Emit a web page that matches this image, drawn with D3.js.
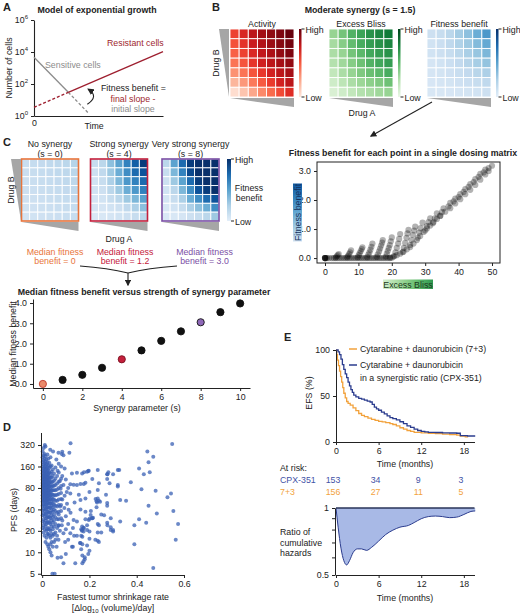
<!DOCTYPE html>
<html>
<head>
<meta charset="utf-8">
<script src="https://cdn.jsdelivr.net/npm/d3@7"></script>
<style>
  body { margin: 0; background: #fff; }
</style>
</head>
<body>
<div id="chart"></div>
<script>
// ---- A: exponential growth model (log10 cells vs time) ----
const growthTicks = [0, 2, 4, 6];
const sensitiveSolid = [[0, 3.67], [2.66, 1.48]];
const sensitiveDashed = [[2.66, 1.48], [4.21, 0.19]];
const resistantDashed = [[0, 0.54], [2.66, 1.48]];
const resistantSolid = [[2.66, 1.48], [10, 4.02]];

// ---- B: moderate synergy matrices (rows = drug B high -> low) ----
const activityMatrix = [
    [0.58, 0.68, 0.78, 0.86, 0.91, 0.95, 1],
    [0.53, 0.63, 0.73, 0.81, 0.88, 0.93, 0.97],
    [0.48, 0.58, 0.67, 0.76, 0.83, 0.9, 0.95],
    [0.42, 0.52, 0.62, 0.71, 0.78, 0.85, 0.9],
    [0.32, 0.42, 0.52, 0.61, 0.7, 0.78, 0.85],
    [0.2, 0.3, 0.4, 0.5, 0.6, 0.7, 0.78],
    [0.05, 0.15, 0.25, 0.35, 0.45, 0.55, 0.65]
];
const blissMatrix = [
    [0.35, 0.45, 0.55, 0.62, 0.7, 0.75, 0.8],
    [0.3, 0.4, 0.5, 0.58, 0.65, 0.7, 0.75],
    [0.28, 0.35, 0.45, 0.52, 0.6, 0.65, 0.7],
    [0.25, 0.32, 0.4, 0.47, 0.55, 0.6, 0.65],
    [0.2, 0.28, 0.35, 0.42, 0.48, 0.52, 0.58],
    [0.15, 0.22, 0.28, 0.33, 0.38, 0.42, 0.47],
    [0.1, 0.15, 0.2, 0.25, 0.28, 0.32, 0.35]
];
const benefitMatrix = [
    [0.12, 0.15, 0.2, 0.28, 0.35, 0.45, 0.55],
    [0.1, 0.13, 0.18, 0.24, 0.3, 0.38, 0.47],
    [0.1, 0.12, 0.15, 0.2, 0.26, 0.32, 0.4],
    [0.08, 0.1, 0.13, 0.17, 0.22, 0.27, 0.33],
    [0.08, 0.09, 0.11, 0.14, 0.17, 0.21, 0.25],
    [0.07, 0.08, 0.09, 0.11, 0.13, 0.15, 0.18],
    [0.06, 0.06, 0.07, 0.08, 0.09, 0.1, 0.12]
];

// ---- B (right): fitness benefit vs excess bliss ----
const blissBaseline = [[0, 0], [0, 0], [0, 0], [0, 0], [0, 0], [0.3, 0], [0.6, 0], [1.2, 0], [2, 0], [2.6, 0],
    [3.2, 0], [3.8, 0], [4.4, 0], [5, 0], [5.6, 0], [6.2, 0], [6.8, 0], [7.4, 0], [8, 0], [8.6, 0],
    [9.2, 0], [9.8, 0], [10.4, 0], [11, 0], [11.6, 0], [12.2, 0], [12.8, 0], [13.4, 0], [14, 0], [14.6, 0],
    [15.2, 0], [15.8, 0], [16.4, 0], [17, 0], [17.6, 0], [18.2, 0], [18.8, 0], [19.4, 0], [20, 0.01]];
const blissStreaks = [
    [[3.2, 0.02], [3.5, 0.06], [3.8, 0.1], [4.1, 0.14]],
    [[6.6, 0.03], [6.9, 0.08], [7.2, 0.14], [7.5, 0.2], [7.8, 0.27]],
    [[9.8, 0.03], [10.1, 0.1], [10.4, 0.17], [10.7, 0.24], [11, 0.31], [11.2, 0.37]],
    [[12.6, 0.03], [13, 0.12], [13.3, 0.2], [13.6, 0.29], [13.9, 0.39], [14.2, 0.5]],
    [[15.5, 0.04], [15.8, 0.13], [16.2, 0.23], [16.5, 0.33], [16.8, 0.43], [17.1, 0.53], [17.3, 0.62]],
    [[18.2, 0.05], [18.5, 0.15], [18.8, 0.25], [19.1, 0.35], [19.4, 0.45], [19.7, 0.58], [20, 0.71]],
    [[20.8, 0.07], [21.1, 0.2], [21.5, 0.35], [21.9, 0.5], [22.2, 0.66], [22.5, 0.83]],
    [[23.2, 0.2], [23.6, 0.35], [24, 0.52], [24.4, 0.7], [24.7, 0.85], [25, 0.97]],
    [[25.5, 0.45], [25.9, 0.62], [26.3, 0.8], [26.7, 0.95], [27, 1.08]],
    [[27.8, 0.7], [28.2, 0.88], [28.6, 1.03], [29.2, 1.22]],
    [[30, 0.95], [30.5, 1.1], [31, 1.24], [31.5, 1.37]],
    [[32.3, 1.2], [32.9, 1.37], [33.5, 1.54]],
    [[34.5, 1.45], [35, 1.58], [35.5, 1.71]]
];
const blissUpper = [[37, 1.78], [37.5, 1.9], [38.5, 1.95], [39, 2.05], [40, 2.1], [40.5, 2.2], [41.5, 2.28],
    [42, 2.38], [43, 2.45], [43.5, 2.55], [44.5, 2.62], [45, 2.72], [46, 2.8], [46.5, 2.9], [47.5, 2.95],
    [48, 3.05], [49, 3.1], [50, 3.18]];
const blissCurve = [[19.5, 0.02], [20.5, 0.05], [21.5, 0.1], [22.5, 0.15], [23.5, 0.22], [24.5, 0.3],
    [25.5, 0.38], [26.5, 0.5], [27.5, 0.62], [28.5, 0.76], [29.5, 0.9], [30.5, 1.02], [31.5, 1.12],
    [32.5, 1.24], [33.5, 1.35], [34.5, 1.46], [36, 1.6], [37.5, 1.72], [39, 1.88], [40.5, 2.03],
    [42, 2.2], [43.5, 2.35], [45, 2.52], [46.5, 2.7], [48, 2.88], [49, 3.0]];

// ---- C: fitness benefit matrices for three synergy strengths ----
const noSynergyMatrix = [
    [0.14, 0.16, 0.17, 0.18, 0.19, 0.2, 0.22],
    [0.13, 0.15, 0.16, 0.17, 0.18, 0.19, 0.2],
    [0.12, 0.14, 0.15, 0.16, 0.17, 0.18, 0.19],
    [0.12, 0.13, 0.14, 0.15, 0.16, 0.17, 0.18],
    [0.11, 0.12, 0.13, 0.14, 0.15, 0.16, 0.17],
    [0.1, 0.11, 0.12, 0.13, 0.14, 0.15, 0.16],
    [0.09, 0.1, 0.11, 0.12, 0.13, 0.14, 0.15]
];
const strongMatrix = [
    [0.15, 0.2, 0.35, 0.5, 0.65, 0.8, 0.95],
    [0.12, 0.18, 0.3, 0.45, 0.6, 0.75, 0.85],
    [0.1, 0.15, 0.25, 0.4, 0.55, 0.65, 0.75],
    [0.1, 0.12, 0.2, 0.3, 0.45, 0.55, 0.65],
    [0.08, 0.1, 0.15, 0.2, 0.3, 0.4, 0.5],
    [0.08, 0.08, 0.1, 0.12, 0.18, 0.25, 0.35],
    [0.05, 0.06, 0.08, 0.1, 0.12, 0.15, 0.2]
];
const veryStrongMatrix = [
    [0.2, 0.5, 0.75, 0.95, 1, 1, 1],
    [0.15, 0.4, 0.65, 0.9, 1, 1, 1],
    [0.12, 0.3, 0.5, 0.75, 0.95, 1, 1],
    [0.1, 0.2, 0.4, 0.6, 0.85, 0.95, 1],
    [0.08, 0.15, 0.25, 0.45, 0.6, 0.75, 0.85],
    [0.06, 0.1, 0.15, 0.25, 0.35, 0.45, 0.6],
    [0.05, 0.06, 0.08, 0.12, 0.15, 0.2, 0.3]
];
const synergyParams = [0, 1, 2, 3, 4, 5, 6, 7, 8, 9, 10];
const medianBenefit = [0, 0.2, 0.45, 0.8, 1.22, 1.66, 2.13, 2.6, 3.05, 3.55, 3.98];

// ---- D: PFS vs fastest shrinkage rate ----
const denseRates = [0.002, 0.006, 0.010, 0.014, 0.018, 0.022, 0.026, 0.030, 0.035, 0.040, 0.045, 0.050, 0.056, 0.063, 0.070, 0.080];
const densePfs = [
    [260, 215, 185, 160, 142, 128, 115, 104, 94, 86, 78, 70, 63, 57, 51, 45, 39, 33, 27, 22],
    [290, 230, 195, 170, 150, 134, 120, 108, 98, 89, 81, 73, 66, 59, 53, 47, 41, 35, 29, 24, 19],
    [240, 205, 178, 156, 138, 124, 112, 101, 92, 84, 76, 69, 62, 56, 50, 44, 38, 32, 26, 21, 17],
    [305, 222, 188, 163, 145, 130, 117, 106, 96, 87, 79, 71, 64, 58, 52, 46, 40, 34, 28, 23, 14],
    [200, 172, 150, 133, 119, 107, 97, 88, 80, 72, 65, 59, 53, 47, 41, 35, 30, 25, 20, 16],
    [235, 180, 157, 139, 125, 112, 101, 91, 83, 75, 68, 61, 55, 49, 43, 37, 31, 26, 21, 18, 13],
    [205, 165, 143, 127, 114, 102, 92, 83, 75, 68, 61, 55, 49, 43, 37, 32, 27, 22, 18, 12],
    [180, 152, 132, 116, 104, 93, 84, 75, 68, 61, 54, 48, 42, 36, 31, 26, 21, 17, 11],
    [215, 160, 128, 110, 97, 86, 77, 69, 62, 55, 48, 42, 36, 30, 25, 20, 16, 13, 10],
    [165, 135, 112, 96, 84, 74, 65, 58, 51, 45, 39, 33, 28, 23, 18, 14, 9],
    [145, 118, 98, 85, 74, 64, 56, 49, 43, 37, 31, 26, 21, 17, 12],
    [128, 102, 86, 74, 63, 55, 47, 40, 34, 28, 23, 18, 14],
    [155, 108, 88, 74, 63, 53, 45, 38, 31, 25, 19, 15],
    [118, 92, 76, 64, 53, 44, 36, 29, 22, 17],
    [132, 98, 80, 66, 55, 46, 37, 29, 24],
    [108, 85, 68, 56, 46, 38, 30]
];
const sparsePoints = [
    [0.12, 340], [0.55, 330], [0.445, 260], [0.47, 220], [0.45, 183], [0.41, 150], [0.43, 125], [0.455, 133],
    [0.375, 96], [0.42, 77], [0.48, 73], [0.545, 67], [0.53, 59], [0.355, 53], [0.45, 45], [0.555, 38],
    [0.485, 35], [0.41, 29], [0.44, 26], [0.575, 25], [0.39, 24], [0.565, 15], [0.39, 13], [0.47, 6],
    [0.275, 107], [0.32, 143], [0.275, 125], [0.28, 133], [0.24, 93], [0.285, 93], [0.32, 88], [0.32, 84],
    [0.235, 75], [0.2, 70], [0.27, 64], [0.235, 57], [0.23, 52], [0.245, 51], [0.232, 50], [0.33, 54],
    [0.275, 49], [0.275, 45], [0.23, 43], [0.206, 38], [0.25, 34], [0.262, 33], [0.21, 30], [0.2, 29.5],
    [0.215, 30.5], [0.29, 30], [0.275, 26], [0.33, 27], [0.235, 25], [0.24, 24], [0.19, 24], [0.175, 22],
    [0.165, 21], [0.168, 20], [0.175, 19.5], [0.2, 19.5], [0.29, 20.5], [0.3, 19.5], [0.235, 19], [0.25, 19],
    [0.135, 17], [0.165, 17], [0.17, 16.5], [0.2, 15.5], [0.11, 15], [0.225, 15], [0.235, 14.5], [0.24, 14],
    [0.16, 13.5], [0.17, 13], [0.19, 12.5], [0.13, 12], [0.165, 11], [0.2, 10.5], [0.195, 9.5], [0.1, 9.5],
    [0.17, 9], [0.18, 8.5], [0.08, 8.5], [0.065, 8.4], [0.18, 8], [0.175, 7.5], [0.09, 7], [0.14, 7], [0.17, 7],
    [0.069, 249], [0.083, 240], [0.09, 230], [0.115, 249], [0.034, 275], [0.046, 260], [0.126, 128],
    [0.147, 131], [0.169, 128], [0.19, 135], [0.197, 140], [0.276, 125], [0.326, 143], [0.119, 90],
    [0.133, 89], [0.147, 88], [0.162, 91], [0.176, 91], [0.183, 95], [0.212, 107], [0.104, 70], [0.119, 67],
    [0.155, 64], [0.162, 54], [0.183, 57], [0.226, 56], [0.24, 53], [0.137, 50], [0.076, 44], [0.094, 42],
    [0.112, 39.5], [0.162, 40], [0.183, 37], [0.205, 33.5], [0.212, 30], [0.197, 28.5], [0.183, 29],
    [0.133, 28.5], [0.147, 27], [0.083, 24], [0.069, 23.5], [0.169, 23], [0.176, 22], [0.19, 20.5],
    [0.169, 20.5], [0.276, 24], [0.29, 22.5], [0.3, 20.5], [0.09, 18.5], [0.119, 18.5], [0.147, 17],
    [0.069, 15], [0.097, 14], [0.061, 12], [0.126, 12], [0.162, 13.5], [0.043, 5], [0.053, 5], [0.011, 320],
    [0.06, 200], [0.07, 175], [0.08, 160], [0.095, 150], [0.065, 140], [0.085, 118], [0.1, 105], [0.075, 100],
    [0.09, 88], [0.11, 80], [0.078, 78], [0.095, 62], [0.085, 55], [0.105, 48], [0.07, 34], [0.1, 32],
    [0.12, 36], [0.085, 28], [0.11, 25], [0.075, 20], [0.1, 21], [0.13, 22], [0.085, 258], [0.235, 143],
    [0.195, 138], [0.177, 133], [0.3, 125]
];
const pfsTicks = [5, 10, 20, 40, 80, 160, 320];
const rateTicks = [0, 0.2, 0.4, 0.6];

// ---- E: event-free survival and ratio of cumulative hazards ----
const cpxCurve = [[0, 100], [0.3, 98], [0.5, 95], [0.7, 90], [0.9, 84], [1.1, 79], [1.3, 74], [1.5, 70],
    [1.7, 65], [1.9, 61], [2.1, 57], [2.3, 54], [2.5, 51], [2.8, 49], [3.2, 47.5], [3.6, 46.5], [4.0, 45.5],
    [4.4, 44.5], [4.8, 43.5], [5.1, 41], [5.4, 38], [5.7, 36], [6.0, 34.5], [6.4, 32.5], [6.8, 30.5],
    [7.2, 28.5], [7.6, 26.5], [8.0, 25.5], [8.5, 24], [9.0, 22], [9.5, 20], [10.0, 17.5], [10.5, 16],
    [11.0, 14], [11.5, 12.5], [12.0, 11.5], [12.5, 11], [13.0, 10.5], [14, 10.3], [15, 10], [16, 9.8],
    [17, 9.5], [17.5, 7], [18.5, 6.5], [19.6, 6.5]];
const standardCurve = [[0, 100], [0.1, 95], [0.2, 89], [0.35, 83], [0.5, 77], [0.65, 71], [0.8, 65],
    [0.95, 59], [1.1, 53], [1.3, 48], [1.5, 44], [1.7, 42], [2.0, 40], [2.4, 37], [2.8, 34], [3.2, 31],
    [3.6, 29], [4.0, 27.5], [4.5, 26], [5.0, 24.5], [5.5, 23.5], [6.0, 22.5], [6.5, 21.8], [7.0, 21],
    [7.6, 20], [8.0, 19], [8.5, 17.5], [9.0, 15.5], [9.5, 14], [10.0, 12.5], [10.5, 11.5], [11.0, 10.5],
    [12.0, 10], [13, 9.5], [14, 9], [15, 8.5], [16, 8], [17, 7.5], [17.5, 6.5], [18.2, 5.5], [18.6, 5.5]];
const monthTicks = [0, 6, 12, 18];
const efsTicks = [0, 50, 100];
const atRiskCpx = [153, 34, 9, 3];
const atRiskStandard = [156, 27, 11, 5];
const hazardRatio = [[0, 1], [0.3, 0.82], [0.7, 0.66], [1.1, 0.58], [1.5, 0.555], [1.9, 0.58], [2.4, 0.63],
    [3.0, 0.655], [3.6, 0.655], [4.3, 0.645], [5.0, 0.665], [6.0, 0.71], [7.0, 0.76], [8.0, 0.795],
    [9.0, 0.82], [10.2, 0.835], [11.0, 0.86], [12.0, 0.895], [13.0, 0.915], [14.0, 0.92], [15.0, 0.915],
    [16.0, 0.905], [17.0, 0.91], [18.0, 0.935], [19.0, 0.965], [19.6, 0.97]];
const ratioTicks = [0.5, 0.6, 0.7, 0.8, 0.9, 1];

const INK = "#222";
const SENSITIVE = "#8c8c8c";
const RESISTANT = "#9e1f2f";
const ORANGE_S0 = "#e8743b";
const CRIMSON_S4 = "#c4203c";
const PURPLE_S8 = "#7b4fa5";
const KM_ORANGE = "#f2a23c";
const KM_BLUE = "#2b3c8e";
const TABLE_BLUE = "#3f52a6";

const svg = d3.select("#chart").append("svg")
    .attr("width", 520)
    .attr("height", 616)
    .attr("font-family", "'Liberation Sans', Arial, Helvetica, sans-serif")
    .attr("font-size", 8.8);
const defs = svg.append("defs");

defs.append("marker")
    .attr("id", "arrow")
    .attr("viewBox", "0 0 10 10")
    .attr("refX", 8).attr("refY", 5)
    .attr("markerWidth", 6).attr("markerHeight", 6)
    .attr("orient", "auto")
    .append("path")
    .attr("d", "M0,0L10,5L0,10z")
    .attr("fill", INK);

const label = (g, x, y, text, {anchor = "start", color = INK, bold = false, size = null, rotate = false} = {}) => {
    const t = g.append("text")
        .attr("x", x).attr("y", y)
        .attr("text-anchor", anchor)
        .attr("fill", color)
        .text(text);
    if (bold) t.attr("font-weight", "bold");
    if (size) t.attr("font-size", size);
    if (rotate) t.attr("transform", `rotate(-90,${x},${y})`);
    return t;
};

const styleAxis = (sel) => {
    sel.attr("font-family", null).attr("font-size", null);
    sel.selectAll("path, line").attr("stroke", INK);
    sel.selectAll("text").attr("fill", INK);
    return sel;
};

const addGradient = (id, interpolate, vertical) => {
    const grad = defs.append("linearGradient").attr("id", id);
    if (vertical) grad.attr("x1", 0).attr("y1", 1).attr("x2", 0).attr("y2", 0);
    [0, 0.25, 0.5, 0.75, 1].forEach((t) => grad.append("stop").attr("offset", t).attr("stop-color", interpolate(t)));
    return `url(#${id})`;
};

const redScale = (t) => d3.interpolateReds(0.08 + 0.92 * t);
const greenScale = (t) => d3.interpolateGreens(0.08 + 0.92 * t);
const blueScale = (t) => d3.interpolateBlues(0.1 + 0.9 * t);

const drawMatrix = (g, values, left, top, width, height, colorFn, border) => {
    const col = d3.scaleBand().domain(d3.range(values[0].length)).range([left, left + width]);
    const row = d3.scaleBand().domain(d3.range(values.length)).range([top, top + height]);
    const cells = values.flatMap((r, i) => r.map((v, j) => ({i, j, v})));
    g.append("g").selectAll("rect").data(cells).join("rect")
        .attr("x", (d) => col(d.j))
        .attr("y", (d) => row(d.i))
        .attr("width", col.bandwidth())
        .attr("height", row.bandwidth())
        .attr("fill", (d) => colorFn(d.v))
        .attr("stroke", "#fff")
        .attr("stroke-width", 0.9);
    if (border) {
        g.append("rect")
            .attr("x", left).attr("y", top)
            .attr("width", width).attr("height", height)
            .attr("fill", "none")
            .attr("stroke", border)
            .attr("stroke-width", 1.6);
    }
};

const wedgeBelow = (g, left, width, top) => g.append("path")
    .attr("d", `M${left},${top}L${left + width},${top}L${left + width},${top + 9}Z`)
    .attr("fill", "#a6a6a6");

const wedgeLeft = (g, right, top, height) => g.append("path")
    .attr("d", `M${right},${top}L${right - 10},${top}L${right},${top + height}Z`)
    .attr("fill", "#a6a6a6");

const colorBar = (g, id, colorFn, x, top, height, width, lines) => {
    g.append("rect")
        .attr("x", x).attr("y", top)
        .attr("width", width).attr("height", height)
        .attr("fill", addGradient(id, colorFn, true));
    [top, top + height].forEach((y) => g.append("line")
        .attr("x1", x + width).attr("x2", x + width + 3)
        .attr("y1", y).attr("y2", y)
        .attr("stroke", INK));
    label(g, x + width + 4, top + 3.5, "High");
    label(g, x + width + 4, top + height + 3.5, "Low");
    if (lines) {
        label(g, x + width + 18, top + height / 2 + 1, lines[0], {anchor: "middle"});
        label(g, x + width + 18, top + height / 2 + 11, lines[1], {anchor: "middle"});
    }
};

// ---------- Panel A ----------
const drawGrowth = () => {
    const g = svg.append("g");
    const x = d3.scaleLinear().domain([0, 10]).range([34, 163]);
    const y = d3.scaleLinear().domain([0, 6]).range([116, 20]);

    label(g, 3, 11, "A", {bold: true, size: 11});
    label(g, 97, 13, "Model of exponential growth", {anchor: "middle", bold: true});

    const left = g.append("g").attr("transform", "translate(34,0)")
        .call(d3.axisLeft(y).tickValues(growthTicks).tickSize(3).tickSizeOuter(0));
    styleAxis(left);
    left.selectAll(".tick text").each(function (d) {
        d3.select(this).text("10").append("tspan").attr("dy", -4).attr("font-size", 6).text(d);
    });
    const bottom = g.append("g").attr("transform", "translate(0,116)")
        .call(d3.axisBottom(x).tickValues([0]).tickSize(0).tickPadding(4).tickSizeOuter(0));
    styleAxis(bottom);
    left.select(".domain").attr("stroke-width", 1.1);
    bottom.select(".domain").attr("stroke-width", 1.1);

    label(g, 94, 129, "Time", {anchor: "middle"});
    label(g, 12, 68, "Number of cells", {anchor: "middle", rotate: true});

    const line = d3.line().x((d) => x(d[0])).y((d) => y(d[1]));
    const segments = [
        {data: sensitiveSolid, color: SENSITIVE, dash: null},
        {data: sensitiveDashed, color: SENSITIVE, dash: "3,2"},
        {data: resistantDashed, color: RESISTANT, dash: "3,2"},
        {data: resistantSolid, color: RESISTANT, dash: null}
    ];
    segments.forEach((s) => g.append("path")
        .attr("d", line(s.data))
        .attr("fill", "none")
        .attr("stroke", s.color)
        .attr("stroke-width", 1.3)
        .attr("stroke-dasharray", s.dash));

    label(g, 107, 46, "Resistant cells", {color: RESISTANT});
    label(g, 45, 68, "Sensitive cells", {color: SENSITIVE});
    label(g, 101, 91, "Fitness benefit =");
    label(g, 133, 102, "final slope -", {anchor: "middle", color: RESISTANT});
    label(g, 133, 112, "initial slope", {anchor: "middle", color: SENSITIVE});

    const cx = x(sensitiveSolid[1][0]);
    const cy = y(sensitiveSolid[1][1]);
    g.append("path")
        .attr("d", `M${cx + 19},${cy + 12}Q${cx + 31},${cy + 4} ${cx + 20},${cy - 3}`)
        .attr("fill", "none")
        .attr("stroke", INK)
        .attr("stroke-width", 1.1)
        .attr("marker-end", "url(#arrow)");
};

// ---------- Panel B ----------
const drawModerate = () => {
    const g = svg.append("g");
    label(g, 212, 11, "B", {bold: true, size: 11});
    label(g, 360, 13, "Moderate synergy (s = 1.5)", {anchor: "middle", bold: true});

    const top = 29, height = 68, width = 64;
    const panels = [
        {title: "Activity", values: activityMatrix, left: 230, color: redScale, id: "gradRed"},
        {title: "Excess Bliss", values: blissMatrix, left: 329, color: greenScale, id: "gradGreen"},
        {title: "Fitness benefit", values: benefitMatrix, left: 427, color: blueScale, id: "gradBlue"}
    ];
    panels.forEach((p) => {
        label(g, p.left + width / 2, 27, p.title, {anchor: "middle"});
        drawMatrix(g, p.values, p.left, top, width, height, p.color, null);
        wedgeBelow(g, p.left, width, top + height + 1);
        colorBar(g, p.id, p.color, p.left + width + 5, top, height, 2.5, null);
    });
    wedgeLeft(g, 229, top, height);
    label(g, 219, top + height / 2, "Drug B", {anchor: "middle", rotate: true});
    label(g, 362, 116, "Drug A", {anchor: "middle"});

    g.append("line")
        .attr("x1", 432).attr("y1", 102)
        .attr("x2", 371).attr("y2", 136)
        .attr("stroke", INK)
        .attr("stroke-width", 1.1)
        .attr("marker-end", "url(#arrow)");
};

// ---------- Panel B (right): fitness vs excess bliss ----------
const drawBlissScatter = () => {
    const g = svg.append("g");
    const x = d3.scaleLinear().domain([-2.4, 52.4]).range([317, 500]);
    const y = d3.scaleLinear().domain([-0.17, 3.31]).range([263, 162]);

    label(g, 403, 156, "Fitness benefit for each point in a single dosing matrix", {anchor: "middle", bold: true});

    const points = [...blissBaseline, ...blissStreaks.flat(), ...blissUpper, ...blissCurve];
    g.append("g").selectAll("circle").data(points).join("circle")
        .attr("cx", (d) => x(d[0]))
        .attr("cy", (d) => y(d[1]))
        .attr("r", 3.1)
        .attr("fill", "#000")
        .attr("fill-opacity", 0.3);

    const ax = g.append("g").attr("transform", "translate(0,263)")
        .call(d3.axisBottom(x).tickValues([0, 10, 20, 30, 40, 50]).tickSize(3).tickSizeOuter(0));
    const ay = g.append("g").attr("transform", "translate(317,0)")
        .call(d3.axisLeft(y).tickValues([0, 1, 2, 3]).tickSize(3).tickSizeOuter(0));
    styleAxis(ax).select(".domain").remove();
    styleAxis(ay).select(".domain").remove();
    g.append("rect")
        .attr("x", 317).attr("y", 162)
        .attr("width", 183).attr("height", 101)
        .attr("fill", "none")
        .attr("stroke", INK)
        .attr("stroke-width", 1);

    g.append("rect")
        .attr("x", 383).attr("y", 279.5)
        .attr("width", 50).attr("height", 9.5)
        .attr("fill", addGradient("gradBlissLabel", (t) => d3.interpolateGreens(0.2 + 0.5 * t), false));
    label(g, 408, 287.5, "Excess Bliss", {anchor: "middle", color: "#1b3a20"});

    g.append("rect")
        .attr("x", 293).attr("y", 183.5)
        .attr("width", 9).attr("height", 58)
        .attr("fill", addGradient("gradBenefitLabel", (t) => d3.interpolateBlues(0.2 + 0.65 * t), true));
    label(g, 301, 212.5, "Fitness benefit", {anchor: "middle", rotate: true, color: "#15325e"});
};

// ---------- Panel C ----------
const drawSynergyMatrices = () => {
    const g = svg.append("g");
    label(g, 3, 146, "C", {bold: true, size: 11});

    const top = 159, height = 62, width = 57;
    const panels = [
        {title: "No synergy", sub: "(s = 0)", values: noSynergyMatrix, left: 21.5, border: ORANGE_S0,
            median: "benefit = 0", shift: 5},
        {title: "Strong synergy", sub: "(s = 4)", values: strongMatrix, left: 90.5, border: CRIMSON_S4,
            median: "benefit = 1.2", shift: 6},
        {title: "Very strong synergy", sub: "(s = 8)", values: veryStrongMatrix, left: 162, border: PURPLE_S8,
            median: "benefit = 3.0", shift: 14}
    ];
    panels.forEach((p) => {
        const cx = p.left + width / 2;
        label(g, cx, 147, p.title, {anchor: "middle"});
        label(g, cx, 157, p.sub, {anchor: "middle"});
        drawMatrix(g, p.values, p.left, top, width, height, blueScale, p.border);
        wedgeBelow(g, p.left, width, top + height + 1);
        label(g, cx + p.shift, 255, "Median fitness", {anchor: "middle", color: p.border});
        label(g, cx + p.shift, 264, p.median, {anchor: "middle", color: p.border});
    });
    wedgeLeft(g, 21, top, height);
    label(g, 14, top + height / 2, "Drug B", {anchor: "middle", rotate: true});
    label(g, 119, 242, "Drug A", {anchor: "middle"});
    colorBar(g, "gradBlueC", blueScale, 227, top, height, 4, ["Fitness", "benefit"]);

    const join = g.append("g").attr("fill", "none").attr("stroke", INK).attr("stroke-width", 1.1);
    join.append("path").attr("d", "M80,266Q108,268 128,273");
    join.append("path").attr("d", "M177,266Q148,268 128,273");
    join.append("path").attr("d", "M128,273L128,285").attr("marker-end", "url(#arrow)");
};

// ---------- Panel C (bottom): median fitness benefit ----------
const drawMedianPlot = () => {
    const g = svg.append("g");
    const x = d3.scaleLinear().domain([-0.5, 10.5]).range([33, 250]);
    const y = d3.scaleLinear().domain([-0.2, 4.2]).range([388, 299]);

    label(g, 144, 295, "Median fitness benefit versus strength of synergy parameter", {anchor: "middle", bold: true});

    styleAxis(g.append("g").attr("transform", "translate(0,388)")
        .call(d3.axisBottom(x).tickValues([0, 2, 4, 6, 8, 10]).tickSize(3).tickSizeOuter(0)));
    styleAxis(g.append("g").attr("transform", "translate(33,0)")
        .call(d3.axisLeft(y).tickValues([0, 1, 2, 3, 4]).tickSize(3).tickSizeOuter(0)));

    const fillFor = (s) => (s === 0 ? "#ea8a6a" : s === 4 ? CRIMSON_S4 : s === 8 ? "#8e68b8" : "#111");
    const strokeFor = (s) => (s === 0 ? "#c0392b" : s === 4 ? "#7a1020" : "#111");
    g.append("g").selectAll("circle").data(synergyParams).join("circle")
        .attr("cx", (s) => x(s))
        .attr("cy", (s, i) => y(medianBenefit[i]))
        .attr("r", 3.6)
        .attr("fill", fillFor)
        .attr("stroke", strokeFor)
        .attr("stroke-width", 0.9);

    label(g, 137, 411, "Synergy parameter (s)", {anchor: "middle"});
    label(g, 16, 344, "Median fitness benefit", {anchor: "middle", rotate: true});
};

// ---------- Panel D ----------
const drawPfsScatter = () => {
    const g = svg.append("g");
    const x = d3.scaleLinear().domain([-0.005, 0.6]).range([41, 184]);
    const y = d3.scaleLog().domain([4.8, 480]).range([575, 432.5]);

    label(g, 3, 431, "D", {bold: true, size: 11});

    const points = [...denseRates.flatMap((r, i) => densePfs[i].map((p) => [r, p])), ...sparsePoints];
    g.append("g").selectAll("circle").data(points).join("circle")
        .attr("cx", (d) => x(d[0]))
        .attr("cy", (d) => y(d[1]))
        .attr("r", 2)
        .attr("fill", "#3a60b4")
        .attr("fill-opacity", 0.75);

    styleAxis(g.append("g").attr("transform", "translate(0,575)")
        .call(d3.axisBottom(x).tickValues(rateTicks).tickSize(3).tickSizeOuter(0)
            .tickFormat((d) => (d === 0 ? "0" : d3.format(".1f")(d)))));
    styleAxis(g.append("g").attr("transform", "translate(41,0)")
        .call(d3.axisLeft(y).tickValues(pfsTicks).tickSize(3).tickSizeOuter(0).tickFormat(d3.format("d"))));

    label(g, 113, 600, "Fastest tumor shrinkage rate", {anchor: "middle"});
    const unit = label(g, 113, 610.5, "[Δlog", {anchor: "middle"});
    unit.append("tspan").attr("font-size", 6).attr("dy", 2).text("10");
    unit.append("tspan").attr("dy", -2).text(" (volume)/day]");
    label(g, 17, 510, "PFS (days)", {anchor: "middle", rotate: true});
};

// ---------- Panel E ----------
const drawSurvival = () => {
    const g = svg.append("g");
    const x = d3.scaleLinear().domain([0, 19.5]).range([336, 474.5]);
    const y = d3.scaleLinear().domain([0, 100]).range([442, 350]);

    label(g, 284, 341, "E", {bold: true, size: 11});

    const step = d3.line().x((d) => x(d[0])).y((d) => y(d[1])).curve(d3.curveStepAfter);
    g.append("path").attr("d", step(standardCurve))
        .attr("fill", "none").attr("stroke", KM_ORANGE).attr("stroke-width", 1.3);
    g.append("path").attr("d", step(cpxCurve))
        .attr("fill", "none").attr("stroke", KM_BLUE).attr("stroke-width", 1.3);

    styleAxis(g.append("g").attr("transform", "translate(0,442)")
        .call(d3.axisBottom(x).tickValues(monthTicks).tickSize(3).tickSizeOuter(0)));
    styleAxis(g.append("g").attr("transform", "translate(336,0)")
        .call(d3.axisLeft(y).tickValues(efsTicks).tickSize(3).tickSizeOuter(0)));
    label(g, 405, 467, "Time (months)", {anchor: "middle"});
    label(g, 312, 393, "EFS (%)", {anchor: "middle", rotate: true});

    g.append("line").attr("x1", 349).attr("x2", 357).attr("y1", 349).attr("y2", 349)
        .attr("stroke", KM_ORANGE).attr("stroke-width", 1.5);
    label(g, 360, 352, "Cytarabine + daunorubicin (7+3)");
    g.append("line").attr("x1", 349).attr("x2", 357).attr("y1", 365).attr("y2", 365)
        .attr("stroke", KM_BLUE).attr("stroke-width", 1.5);
    label(g, 360, 368, "Cytarabine + daunorubicin");
    label(g, 360, 381, "in a synergistic ratio (CPX-351)");

    // at-risk table
    label(g, 280, 471, "At risk:");
    label(g, 280, 483, "CPX-351", {color: TABLE_BLUE});
    label(g, 280, 495, "7+3", {color: KM_ORANGE});
    monthTicks.forEach((t, i) => {
        label(g, x(t) - 3, 483, atRiskCpx[i], {anchor: "middle", color: TABLE_BLUE});
        label(g, x(t) - 3, 495, atRiskStandard[i], {anchor: "middle", color: KM_ORANGE});
    });

    // ratio of cumulative hazards
    const ry = d3.scaleLog().domain([0.5, 1]).range([575, 508]);
    const area = d3.area().x((d) => x(d[0])).y0(ry(1)).y1((d) => ry(d[1])).curve(d3.curveMonotoneX);
    const line = d3.line().x((d) => x(d[0])).y((d) => ry(d[1])).curve(d3.curveMonotoneX);
    g.append("path").attr("d", area(hazardRatio)).attr("fill", "#a8b9e6");
    g.append("path").attr("d", line(hazardRatio))
        .attr("fill", "none").attr("stroke", KM_BLUE).attr("stroke-width", 1);
    g.append("line")
        .attr("x1", x(0)).attr("x2", x(19.5))
        .attr("y1", ry(1)).attr("y2", ry(1))
        .attr("stroke", "#2a3558").attr("stroke-width", 1.7);

    styleAxis(g.append("g").attr("transform", "translate(0,575)")
        .call(d3.axisBottom(x).tickValues(monthTicks).tickSize(3).tickSizeOuter(0)));
    styleAxis(g.append("g").attr("transform", "translate(335,0)")
        .call(d3.axisLeft(ry).tickValues(ratioTicks).tickSize(3).tickSizeOuter(0)
            .tickFormat((d) => (d === 1 ? "1" : d === 0.5 ? "0.5" : ""))));
    label(g, 405, 601, "Time (months)", {anchor: "middle"});
    label(g, 280, 535, "Ratio of");
    label(g, 280, 545.5, "cumulative");
    label(g, 280, 556, "hazards");
};

drawGrowth();
drawModerate();
drawBlissScatter();
drawSynergyMatrices();
drawMedianPlot();
drawPfsScatter();
drawSurvival();
</script>
</body>
</html>
